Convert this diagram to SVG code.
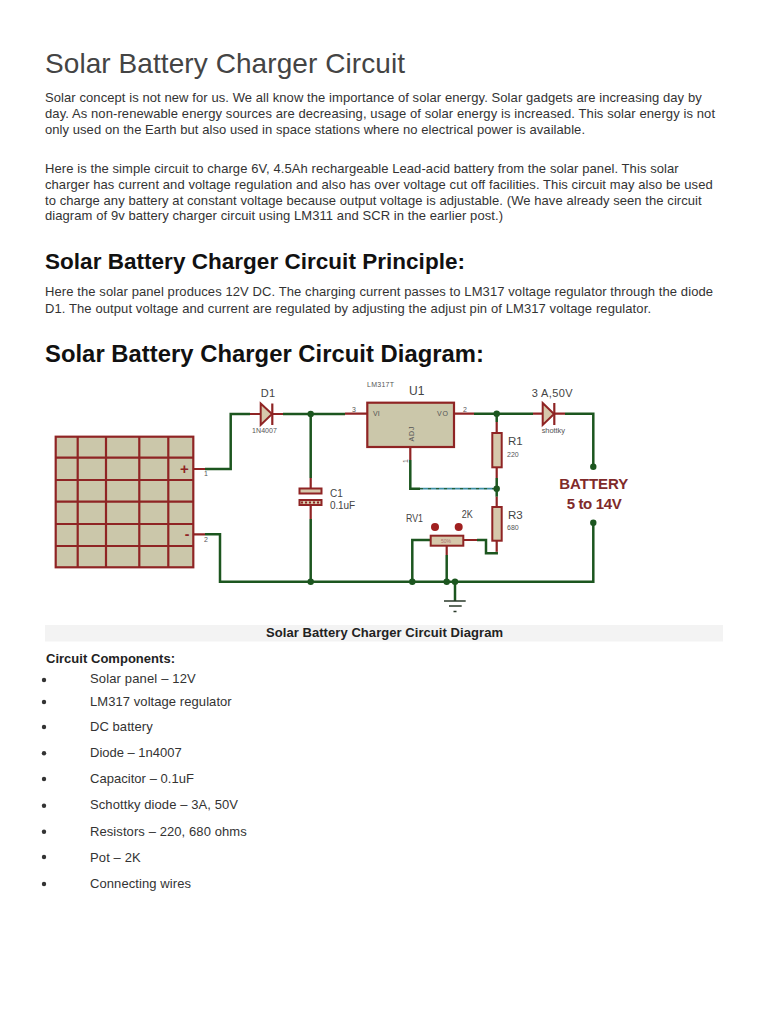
<svg xmlns="http://www.w3.org/2000/svg" width="768" height="1024" viewBox="0 0 768 1024">
<style>
text{font-family:"Liberation Sans",Arial,sans-serif}
.h1{font-size:28px;fill:#444}
.h2{font-size:22.500px;font-weight:bold;fill:#111}
.p{font-size:13px;fill:#333}
.w{fill:none;stroke:#1c561f;stroke-width:2.5}
.t{fill:none;stroke:#8f2424;stroke-width:2.2}
.b{fill:#cbc7aa;stroke:#8f2424;stroke-width:2.2}
.tan{fill:#d6c8ab;stroke:#8f2424;stroke-width:2}
.d{fill:#1c561f}
.s{font-size:10px;fill:#444}
.m{font-size:7px;fill:#555}
.dot{fill:#333}
.g{fill:none;stroke:#2a3a2a;stroke-width:1.600}
</style>
<rect width="768" height="1024" fill="#fff"/>
<g id="text">
<text class="h1" x="45" y="73" textLength="360">Solar Battery Charger Circuit</text>
<text class="p" x="45" y="102.300" textLength="656.700">Solar concept is not new for us. We all know the importance of solar energy. Solar gadgets are increasing day by</text>
<text class="p" x="45" y="118" textLength="670">day. As non-renewable energy sources are decreasing, usage of solar energy is increased. This solar energy is not</text>
<text class="p" x="45" y="133.700" textLength="540">only used on the Earth but also used in space stations where no electrical power is available.</text>
<text class="p" x="45" y="173" textLength="633.700">Here is the simple circuit to charge 6V, 4.5Ah rechargeable Lead-acid battery from the solar panel. This solar</text>
<text class="p" x="45" y="189" textLength="667.700">charger has current and voltage regulation and also has over voltage cut off facilities. This circuit may also be used</text>
<text class="p" x="45" y="205" textLength="656.700">to charge any battery at constant voltage because output voltage is adjustable. (We have already seen the circuit</text>
<text class="p" x="45" y="220" textLength="458">diagram of 9v battery charger circuit using LM311 and SCR in the earlier post.)</text>
<text class="h2" x="45" y="269" textLength="420">Solar Battery Charger Circuit Principle:</text>
<text class="p" x="45" y="296" textLength="668">Here the solar panel produces 12V DC. The charging current passes to LM317 voltage regulator through the diode</text>
<text class="p" x="45" y="313" textLength="606">D1. The output voltage and current are regulated by adjusting the adjust pin of LM317 voltage regulator.</text>
<text class="h2" x="45" y="362" style="font-size:23.800px" textLength="439">Solar Battery Charger Circuit Diagram:</text>
</g>
<g id="caption">
<rect x="45" y="625" width="678" height="16.500" fill="#f3f3f3"/>
<text x="266" y="636.700" font-size="13" font-weight="bold" fill="#222" textLength="237">Solar Battery Charger Circuit Diagram</text>
</g>
<g id="list">
<text x="46" y="663" font-size="13" font-weight="bold" fill="#222" textLength="129">Circuit Components:</text>
<circle class="dot" cx="44" cy="680" r="2.200"/><text class="p" x="90" y="683" textLength="105.700">Solar panel – 12V</text>
<circle class="dot" cx="44" cy="702" r="2.200"/><text class="p" x="90" y="705.700" textLength="141.700">LM317 voltage regulator</text>
<circle class="dot" cx="44" cy="727" r="2.200"/><text class="p" x="90" y="731" textLength="62.700">DC battery</text>
<circle class="dot" cx="44" cy="753.300" r="2.200"/><text class="p" x="90" y="757.300" textLength="91.700">Diode – 1n4007</text>
<circle class="dot" cx="44" cy="779" r="2.200"/><text class="p" x="90" y="783" textLength="104">Capacitor – 0.1uF</text>
<circle class="dot" cx="44" cy="805.700" r="2.200"/><text class="p" x="90" y="809" textLength="148">Schottky diode – 3A, 50V</text>
<circle class="dot" cx="44" cy="831.700" r="2.200"/><text class="p" x="90" y="835.500" textLength="156.700">Resistors – 220, 680 ohms</text>
<circle class="dot" cx="44" cy="857" r="2.200"/><text class="p" x="90" y="861.500" textLength="50.700">Pot – 2K</text>
<circle class="dot" cx="44" cy="884" r="2.200"/><text class="p" x="90" y="887.500" textLength="101">Connecting wires</text>
</g>
<g id="connectors">
<path class="w" d="M205 469H230.700V414H250"/>
<path class="w" d="M283 414H345"/>
<path class="w" d="M310.700 414V478M310.700 519V581.700"/>
<path class="w" d="M205 534.300H220V581.700H593.300V522.700"/>
<path class="w" d="M474 413.700H533M565 413.700H593.300V466.700"/>
<path class="w" d="M496.700 413.700V422M496.700 478V496.700M496.700 551.700V553.300H486V540H477"/>
<path class="w" d="M410.300 460V488.700H420"/>
<path d="M420 488.700H496.700" fill="none" stroke="#3f8fa6" stroke-width="1.800"/>
<path d="M420 488.700H496.700" fill="none" stroke="#1c561f" stroke-width="1" stroke-dasharray="3 5"/>
<path class="w" d="M412.300 581.700V540H430"/>
<path class="w" d="M446.700 555V581.700"/>
<path class="w" d="M455 581.700V601"/>
<path class="t" d="M193 469H205M193 534.300H205M250 414H260M272 414H283"/>
<path class="t" d="M310.700 478V488M310.700 506V519"/>
<path class="t" d="M345 413.700H367M454 413.700H474M533 413.700H542M554 413.700H565"/>
<path class="t" d="M410.300 447V460M496.700 422V433M496.700 467V478M496.700 496.700V507M496.700 540.700V551.700M463 540H477M446.700 546V555"/>
<path class="g" d="M444 601H465.700M449 606H461.700M453.500 611.500H456.500"/>
<circle class="d" cx="310.700" cy="414" r="3.200"/>
<circle class="d" cx="310.700" cy="581.700" r="3.200"/>
<circle class="d" cx="496.700" cy="413.700" r="3.200"/>
<circle class="d" cx="496.700" cy="488.700" r="3.200"/>
<circle class="d" cx="412.300" cy="581.700" r="3.200"/>
<circle class="d" cx="446.700" cy="581.700" r="3.200"/>
<circle class="d" cx="455" cy="581.700" r="3.200"/>
<circle class="d" cx="593.300" cy="466.700" r="3.200"/>
<circle class="d" cx="593.300" cy="522.700" r="3.200"/>
</g>
<g id="panel">
<rect class="b" x="55.700" y="436.700" width="137.600" height="130.600"/>
<path d="M77.700 436.700V567.300M106 436.700V567.300M139.300 436.700V567.300M168.300 436.700V567.300M55.700 457.700H193.300M55.700 480H193.300M55.700 501.700H193.300M55.700 524H193.300M55.700 546H193.300" class="t"/>
<text x="184.500" y="473.500" text-anchor="middle" font-size="15" font-weight="bold" fill="#8f2424">+</text>
<text x="187" y="538.500" text-anchor="middle" font-size="14" font-weight="bold" fill="#8f2424">-</text>
<text class="m" x="204" y="476">1</text>
<text class="m" x="204" y="542">2</text>
</g>
<g id="D1">
<path d="M260.700 403.500L272 414L260.700 425Z" class="tan"/>
<path d="M272.300 403.500V425" class="t"/>
<text class="s" x="260.700" y="397" style="font-size:11px" textLength="14.500">D1</text>
<text class="m" x="252" y="433" textLength="25">1N4007</text>
</g>
<g id="C1">
<rect class="tan" x="299.500" y="488.500" width="22" height="5"/>
<rect class="tan" x="299.500" y="500" width="22" height="5"/>
<path d="M301 502.500H320" fill="none" stroke="#8f2424" stroke-width="2" stroke-dasharray="2 2"/>
<text class="s" x="330" y="496.700">C1</text>
<text class="s" x="330" y="509" textLength="25">0.1uF</text>
</g>
<g id="U1">
<rect class="b" x="367.300" y="402.700" width="86.700" height="44.300"/>
<text class="m" x="373" y="416">VI</text>
<text class="m" x="437" y="416" textLength="11">VO</text>
<text class="m" transform="translate(413.500,441.500) rotate(-90)" textLength="15">ADJ</text>
<text class="m" x="367" y="386.700" textLength="27">LM317T</text>
<text x="409" y="395" font-size="12" fill="#444">U1</text>
<text class="m" x="352" y="411.700">3</text>
<text class="m" x="463" y="411.700">2</text>
<text class="m" transform="translate(407.500,463) rotate(-90)">1</text>
</g>
<g id="R1">
<rect class="tan" x="492.300" y="433" width="9.400" height="34.300"/>
<text class="s" x="508" y="445" style="font-size:11.500px">R1</text>
<text class="m" x="507" y="456.700">220</text>
</g>
<g id="R3">
<rect class="tan" x="492.300" y="507" width="9.400" height="33.700"/>
<text class="s" x="508" y="519" style="font-size:11.500px">R3</text>
<text class="m" x="507" y="530">680</text>
</g>
<g id="RV1">
<rect class="tan" x="430.700" y="535.700" width="32.600" height="10"/>
<circle cx="435" cy="527" r="4" fill="#a02020"/>
<circle cx="458.700" cy="527" r="4" fill="#a02020"/>
<text x="441" y="543" font-size="5" fill="#b07070">50%</text>
<text class="s" x="406" y="522.300" textLength="17" lengthAdjust="spacingAndGlyphs">RV1</text>
<text class="s" x="461.700" y="517.700" textLength="11" lengthAdjust="spacingAndGlyphs">2K</text>
</g>
<g id="D2">
<path d="M542.700 403L554 414L542.700 425Z" class="tan"/>
<path d="M554.300 403V425" class="t"/>
<text class="s" x="531.700" y="397.300" style="font-size:11px" textLength="41">3 A,50V</text>
<text class="m" x="541.700" y="432.700" style="font-size:7.500px" textLength="23.300">shottky</text>
</g>
<g id="battery">
<text x="559.300" y="488.700" font-size="15" font-weight="bold" fill="#7f2a2a" textLength="69">BATTERY</text>
<text x="566.700" y="509" font-size="15" font-weight="bold" fill="#7f2a2a" textLength="55">5 to 14V</text>
</g>
</svg>
